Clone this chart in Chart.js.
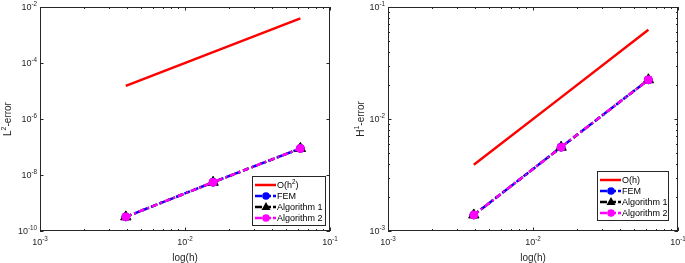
<!DOCTYPE html>
<html>
<head>
<meta charset="utf-8">
<script src="https://cdn.jsdelivr.net/npm/chart.js@4.4.0/dist/chart.umd.min.js"></script>
<style>
  html, body { margin: 0; padding: 0; background: #fff; }
  #wrap { position: relative; width: 685px; height: 263px; }
  canvas { position: absolute; top: 0; }
  #left { left: 0; }
  #right { left: 345px; }
</style>
</head>
<body>
<div id="wrap">
  <canvas id="left" width="340" height="263"></canvas>
  <canvas id="right" width="340" height="263"></canvas>
</div>
<script>
// mesh sizes h = 1/256, 1/64, 1/16
const hValues = [0.00390625, 0.015625, 0.0625];

// left panel: L2 error
const refH2 = [1.53e-5, 2.44e-4, 3.91e-3];
const l2FEM = [3.2e-10, 5.5e-9, 8.9e-8];
const l2Alg1 = [3.2e-10, 5.5e-9, 8.9e-8];
const l2Alg2 = [3.2e-10, 5.5e-9, 8.9e-8];

// right panel: H1 error
const refH = [0.0039, 0.0156, 0.0625];
const h1FEM = [1.39e-3, 5.6e-3, 2.24e-2];
const h1Alg1 = [1.39e-3, 5.6e-3, 2.24e-2];
const h1Alg2 = [1.39e-3, 5.6e-3, 2.24e-2];

const leftNames = ['O(h^{2})', 'FEM', 'Algorithm 1', 'Algorithm 2'];
const rightNames = ['O(h)', 'FEM', 'Algorithm 1', 'Algorithm 2'];

const xTickValues = [1e-3, 1e-2, 1e-1];
const leftYTicks = [1e-10, 1e-8, 1e-6, 1e-4, 1e-2];
const rightYTicks = [1e-3, 1e-2, 1e-1];

const FONT = '"Liberation Sans", Arial, Helvetica, sans-serif';
const AXIS_COLOR = '#262626';

const toPoints = (ys) => hValues.map((h, i) => ({ x: h, y: ys[i] }));

const styles = [
  { color: '#ff0000', dash: [], point: false, order: 3 },
  { color: '#0000ff', dash: [6, 3], point: 'circle', radius: 4, order: 2 },
  { color: '#000000', dash: [6, 3, 2, 3], point: 'triangle', radius: 6, order: 1 },
  { color: '#ff00ff', dash: [6, 3, 2, 3], point: 'circle', radius: 4, order: 0 },
];

const buildDatasets = (names, series) => names.map((name, i) => ({
  label: name,
  data: toPoints(series[i]),
  borderColor: styles[i].color,
  backgroundColor: styles[i].color,
  borderWidth: 2.5,
  borderDash: styles[i].dash,
  pointStyle: styles[i].point || 'circle',
  pointRadius: styles[i].point ? styles[i].radius : 0,
  pointBackgroundColor: styles[i].color,
  pointBorderColor: styles[i].color,
  pointBorderWidth: 1,
  tension: 0,
  order: styles[i].order,
}));

// draw text with ^{...} as superscript
function drawRich(ctx, text, x, y, align, size) {
  const parts = [];
  const re = /\^\{([^}]*)\}/g;
  let last = 0, m;
  while ((m = re.exec(text)) !== null) {
    if (m.index > last) parts.push({ t: text.slice(last, m.index), sup: false });
    parts.push({ t: m[1], sup: true });
    last = re.lastIndex;
  }
  if (last < text.length) parts.push({ t: text.slice(last), sup: false });
  const supSize = size * 0.7;
  let w = 0;
  parts.forEach(p => {
    ctx.font = (p.sup ? supSize : size) + 'px ' + FONT;
    p.w = ctx.measureText(p.t).width;
    w += p.w;
  });
  let cx = align === 'right' ? x - w : align === 'center' ? x - w / 2 : x;
  ctx.textAlign = 'left';
  ctx.textBaseline = 'middle';
  parts.forEach(p => {
    ctx.font = (p.sup ? supSize : size) + 'px ' + FONT;
    ctx.fillText(p.t, cx, p.sup ? y - size * 0.4 : y);
    cx += p.w;
  });
}

const logLabel = (v) => '10^{' + Math.round(Math.log10(v)) + '}';

const minorTicks = (majors) => {
  const out = [];
  for (let i = 0; i < majors.length - 1; i++) {
    for (let k = 2; k <= 9; k++) out.push(majors[i] * k);
  }
  return out;
};

const matlabAxes = {
  id: 'matlabAxes',
  afterDraw(chart, args, opts) {
    const { ctx, chartArea: a, scales: { x, y } } = chart;
    ctx.save();
    ctx.strokeStyle = AXIS_COLOR;
    ctx.lineWidth = 1;
    ctx.strokeRect(a.left + 0.5, a.top + 0.5, a.right - a.left - 1, a.bottom - a.top - 1);

    const tick = (px, len, horiz) => {
      const p = Math.round(px) + 0.5;
      ctx.beginPath();
      if (horiz) {
        ctx.moveTo(p, a.bottom); ctx.lineTo(p, a.bottom - len);
        ctx.moveTo(p, a.top); ctx.lineTo(p, a.top + len);
      } else {
        ctx.moveTo(a.left, p); ctx.lineTo(a.left + len, p);
        ctx.moveTo(a.right, p); ctx.lineTo(a.right - len, p);
      }
      ctx.stroke();
    };
    opts.xTicks.forEach(v => tick(x.getPixelForValue(v), 3.5, true));
    minorTicks(opts.xTicks).forEach(v => tick(x.getPixelForValue(v), 2, true));
    opts.yTicks.forEach(v => tick(y.getPixelForValue(v), 3.5, false));
    if (opts.yMinor) minorTicks(opts.yTicks).forEach(v => tick(y.getPixelForValue(v), 2, false));

    ctx.fillStyle = AXIS_COLOR;
    opts.xTicks.forEach(v => drawRich(ctx, logLabel(v), x.getPixelForValue(v), a.bottom + 12, 'center', 9));
    opts.yTicks.forEach(v => drawRich(ctx, logLabel(v), a.left - 3, y.getPixelForValue(v) + 1, 'right', 9));

    drawRich(ctx, 'log(h)', (a.left + a.right) / 2, 258, 'center', 10);
    ctx.save();
    ctx.translate(opts.yTitleX, (a.top + a.bottom) / 2);
    ctx.rotate(-Math.PI / 2);
    drawRich(ctx, opts.yTitle, 0, 0, 'center', 10);
    ctx.restore();

    // legend box, south-east inside the axes
    const lg = opts.legend;
    const bx = a.right - lg.right - lg.w, by = a.bottom - lg.bottom - lg.h;
    ctx.fillStyle = '#fff';
    ctx.fillRect(bx, by, lg.w, lg.h);
    ctx.strokeStyle = AXIS_COLOR;
    ctx.strokeRect(Math.round(bx) + 0.5, Math.round(by) + 0.5, lg.w, lg.h);
    chart.data.datasets.forEach((ds, i) => {
      const ry = by + 9 + i * 11;
      ctx.strokeStyle = ds.borderColor;
      ctx.lineWidth = 2.5;
      ctx.setLineDash(ds.borderDash.length ? [7, 2] : []);
      ctx.beginPath();
      ctx.moveTo(bx + 3, ry); ctx.lineTo(bx + 24, ry);
      ctx.stroke();
      ctx.setLineDash([]);
      if (ds.pointRadius > 0) {
        ctx.fillStyle = ds.pointBackgroundColor;
        ctx.beginPath();
        if (ds.pointStyle === 'triangle') {
          ctx.moveTo(bx + 14, ry - 5); ctx.lineTo(bx + 18.5, ry + 3); ctx.lineTo(bx + 9.5, ry + 3);
        } else {
          ctx.arc(bx + 14, ry, 3.8, 0, Math.PI * 2);
        }
        ctx.closePath();
        ctx.fill();
      }
      ctx.fillStyle = '#000';
      drawRich(ctx, ds.label, bx + 25, ry + 0.5, 'left', 9);
    });
    ctx.restore();
  }
};

function makeChart(id, names, series, cfg) {
  return new Chart(document.getElementById(id), {
    type: 'line',
    data: { datasets: buildDatasets(names, series) },
    options: {
      responsive: false,
      animation: false,
      devicePixelRatio: 1,
      layout: { padding: { left: 0, right: cfg.padRight, top: 3, bottom: 0 } },
      plugins: {
        legend: { display: false },
        tooltip: { enabled: false },
        matlabAxes: {
          xTicks: xTickValues,
          yTicks: cfg.yTicks,
          yMinor: cfg.yMinor,
          yTitle: cfg.yTitle,
          yTitleX: cfg.yTitleX,
          legend: cfg.legend,
        },
      },
      scales: {
        x: {
          type: 'logarithmic', min: 1e-3, max: 1e-1,
          grid: { display: false }, border: { display: false },
          ticks: { display: false },
          afterFit(s) { s.height = 32; },
        },
        y: {
          type: 'logarithmic', min: cfg.yTicks[0], max: cfg.yTicks[cfg.yTicks.length - 1],
          grid: { display: false }, border: { display: false },
          ticks: { display: false },
          afterFit(s) { s.width = cfg.axisW; },
        },
      },
    },
    plugins: [matlabAxes],
  });
}

makeChart('left', leftNames, [refH2, l2FEM, l2Alg1, l2Alg2], {
  yTicks: leftYTicks, yMinor: false, yTitle: 'L^{2}-error', yTitleX: 8,
  axisW: 40, padRight: 10,
  legend: { w: 73, h: 49, right: 5, bottom: 6 },
});

makeChart('right', rightNames, [refH, h1FEM, h1Alg1, h1Alg2], {
  yTicks: rightYTicks, yMinor: true, yTitle: 'H^{1}-error', yTitleX: 16,
  axisW: 43, padRight: 7,
  legend: { w: 71, h: 49, right: 10, bottom: 11 },
});
</script>
</body>
</html>
